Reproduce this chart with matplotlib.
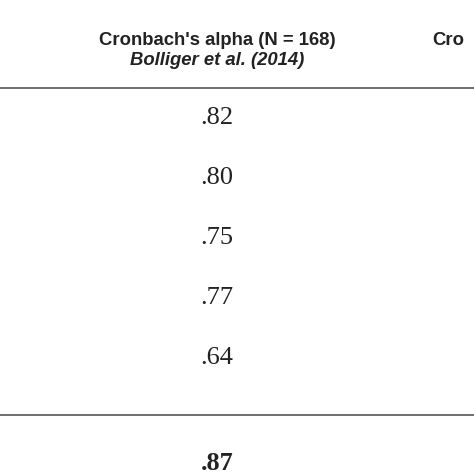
import matplotlib
matplotlib.use("Agg")
import matplotlib.pyplot as plt

header = "Cronbach's alpha (N = 168)"
header_cut = "Cro"
source = "Bolliger et al. (2014)"
values = [".82", ".80", ".75", ".77", ".64"]
total = ".87"

W = H = 474
fig = plt.figure(figsize=(4.74, 4.74), dpi=100)
ax = fig.add_axes([0, 0, 1, 1])
ax.set_xlim(0, W)
ax.set_ylim(H, 0)
ax.axis("off")

ax.text(217, 40, header, ha="center", va="center", fontsize=13.3,
        fontweight="bold", family="Liberation Sans", color="#222222")
ax.text(432, 40, header_cut, ha="left", va="center", fontsize=13.3,
        fontweight="bold", family="Liberation Sans", color="#222222")
ax.text(217, 60, source, ha="center", va="center", fontsize=13.3,
        fontweight="bold", style="italic", family="Liberation Sans", color="#222222")

ax.plot([0, W], [88, 88], color="#555555", lw=1.2)
for i, v in enumerate(values):
    ax.text(217, 118 + 60 * i, v, ha="center", va="center", fontsize=19,
            family="Liberation Serif", color="#222222")
ax.plot([0, W], [415, 415], color="#555555", lw=1.2)
ax.text(217, 464, total, ha="center", va="center", fontsize=19,
        fontweight="bold", family="Liberation Serif", color="#222222")

fig.savefig("out.png", dpi=100)
